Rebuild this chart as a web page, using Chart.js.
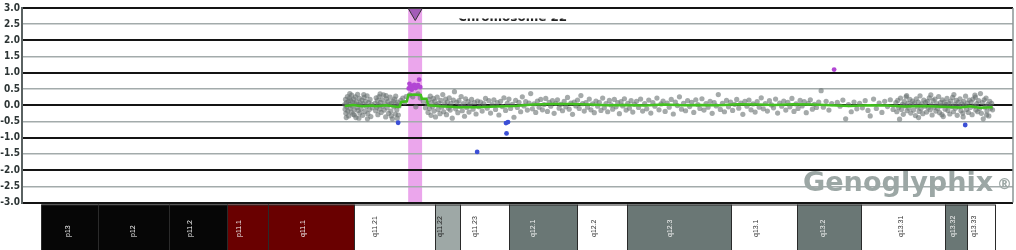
<!DOCTYPE html>
<html>
<head>
<meta charset="utf-8">
<script src="https://cdn.jsdelivr.net/npm/chart.js@4.4.1/dist/chart.umd.min.js"></script>
<style>
  html, body { margin: 0; padding: 0; background: #fff; }
</style>
</head>
<body>
<canvas id="chart" width="1016" height="250"></canvas>
<script>
// --- Data (x in Mb along chromosome 22, y = log2 ratio) ---
const yTicks = [3.0, 2.5, 2.0, 1.5, 1.0, 0.5, 0.0, -0.5, -1.0, -1.5, -2.0, -2.5, -3.0];

const grayPoints = [
  [16.36,0.02],[16.38,-0.12],[16.40,0.18],[16.42,-0.25],[16.45,0.08],[16.47,-0.05],[16.50,0.27],[16.52,-0.18],
  [16.55,0.12],[16.57,-0.33],[16.60,0.03],[16.62,0.22],[16.65,-0.09],[16.68,0.15],[16.70,-0.21],[16.73,0.31],
  [16.76,-0.02],[16.78,0.09],[16.81,-0.28],[16.84,0.19],[16.87,-0.14],[16.90,0.05],[16.93,0.26],[16.96,-0.38],
  [16.99,0.11],[17.02,-0.07],[17.05,0.34],[17.08,-0.16],[17.11,0.02],[17.14,0.21],[17.17,-0.24],[17.20,0.07],
  [17.24,-0.11],[17.28,0.16],[17.32,-0.31],[17.36,0.04],[17.40,0.24],[17.44,-0.19],[17.48,0.12],[17.52,-0.04],
  [17.56,0.29],[17.60,-0.26],[17.64,0.08],[17.68,-0.13],[17.72,0.18],[17.76,-0.35],[17.80,0.03],[17.84,-0.08],
  [16.44,-0.38],[16.63,0.36],[16.88,-0.30],[17.12,-0.40],[17.38,0.33],[17.58,-0.42],
  [17.99,0.06],[18.02,-0.17],[18.05,0.23],[18.08,-0.06],[18.11,0.14],[18.14,-0.29],[18.17,0.01],[18.20,0.27],
  [18.24,-0.12],[18.28,0.09],[18.32,-0.22],[18.36,0.17],[18.40,-0.03],[18.44,0.32],[18.48,-0.15],[18.52,0.05],
  [18.56,-0.36],[18.60,0.20],[18.64,-0.08],[18.68,0.11],[18.72,-0.25],[18.76,0.02],[18.80,0.25],[18.84,-0.18],
  [18.88,0.07],[18.92,-0.42],[18.96,0.13],[19.00,-0.05],[19.04,0.19],[19.08,-0.27],[19.12,0.04],[19.16,-0.14],
  [19.20,0.10],[19.24,-0.30],[19.28,-0.02],
  [18.26,0.35],[18.58,0.30],[18.86,-0.33],[19.10,0.28],[19.18,-0.40],
  [19.38,0.15],[19.48,0.22],[19.58,0.08],[19.66,0.27],
  [19.85,0.32],[20.02,0.26],[20.18,-0.05],[20.30,0.35],[20.42,0.22],
  [20.58,0.12],[20.70,-0.08],
  [20.80,0.05],[20.84,-0.22],[20.88,0.18],[20.92,-0.10],[20.96,0.28],[21.00,-0.31],[21.04,0.08],[21.08,-0.04],
  [21.12,0.21],[21.16,-0.18],[21.20,0.12],[21.24,-0.36],[21.28,0.02],[21.33,0.25],[21.38,-0.13],[21.43,0.07],
  [21.48,-0.26],[21.53,0.15],[21.58,-0.06],[21.63,0.33],[21.68,-0.20],[21.73,0.04],[21.78,0.19],[21.83,-0.29],
  [21.88,0.10],[21.93,-0.09],[21.98,0.23],[22.03,-0.15],[22.08,0.06],[22.14,-0.40],[22.20,0.16],[22.26,0.42],
  [22.32,-0.11],[22.38,0.09],[22.44,-0.23],[22.50,0.14],[22.56,-0.03],[22.62,0.27],[22.68,-0.17],[22.74,0.05],
  [22.80,-0.34],[22.86,0.20],[22.92,-0.07],[22.98,0.11],[23.04,-0.21],[23.10,0.03],[23.18,0.18],[23.26,-0.12],
  [23.34,0.08],[23.42,-0.27],[23.50,0.13],[23.58,-0.05],
  [23.66,0.10],[23.75,-0.18],[23.84,0.05],[23.93,0.21],[24.02,-0.09],[24.11,0.14],[24.20,-0.24],[24.29,0.02],
  [24.38,0.17],[24.47,-0.13],[24.56,0.08],[24.65,-0.30],[24.74,0.12],[24.83,-0.04],[24.92,0.23],[25.01,-0.16],
  [25.10,0.06],[25.19,0.19],[25.28,-0.10],[25.37,0.03],[25.46,-0.37],[25.55,0.15],[25.64,-0.07],[25.73,0.09],
  [25.82,-0.20],[25.91,0.26],[26.00,-0.02],[26.09,0.11],[26.18,-0.15],[26.27,0.07],[26.36,0.36],[26.45,-0.11],
  [26.54,0.04],[26.63,-0.22],[26.72,0.13],[26.81,-0.06],[26.90,0.18],[26.99,-0.14],[27.08,0.02],[27.17,0.21],
  [27.26,-0.19],[27.35,0.09],[27.44,-0.03],[27.53,0.14],[27.62,-0.25],[27.71,0.06],[27.80,0.17],[27.89,-0.09],
  [27.98,0.03],[28.07,-0.17],[28.16,0.12],[28.25,-0.05],[28.34,0.24],[28.43,-0.12],[28.52,0.07],[28.61,-0.28],
  [28.70,0.10],[28.79,-0.02],[28.88,0.16],[28.97,-0.10],[29.06,0.30],[29.15,0.05],[29.24,-0.18],[29.33,0.08],
  [29.42,-0.06],[29.51,0.19],[29.60,-0.14],[29.69,0.04],[29.78,-0.23],[29.87,0.13],[29.96,-0.03],[30.05,0.09],
  [30.14,-0.16],[30.23,0.22],[30.32,-0.08],[30.41,0.05],[30.50,-0.20],[30.59,0.15],[30.68,0.01],[30.77,-0.12],
  [30.86,0.18],[30.95,-0.05],[31.04,0.08],[31.13,-0.26],[31.22,0.11],[31.31,-0.02],[31.40,0.20],[31.49,-0.15],
  [31.58,0.06],[31.67,-0.09],[31.76,0.14],[31.85,-0.21],[31.94,0.03],
  [32.05,0.12],[32.16,-0.07],[32.27,0.19],[32.38,-0.18],[32.49,0.05],[32.60,-0.11],[32.71,0.16],[32.82,-0.24],
  [32.93,0.08],[33.04,-0.03],[33.15,0.22],[33.26,-0.14],[33.37,0.04],[33.48,0.13],[33.59,-0.19],[33.70,0.07],
  [33.81,-0.06],[33.92,0.18],[34.03,-0.27],[34.14,0.10],[34.25,-0.01],[34.36,0.26],[34.47,-0.12],[34.58,0.06],
  [34.69,-0.17],[34.80,0.14],[34.91,-0.04],[35.02,0.09],[35.13,-0.22],[35.24,0.17],[35.35,0.02],[35.46,-0.10],
  [35.57,0.20],[35.68,-0.15],[35.79,0.05],[35.90,-0.06],[36.01,0.12],[36.12,-0.25],[36.23,0.08],[36.34,-0.02],
  [36.45,0.33],[36.56,-0.13],[36.67,0.06],[36.78,-0.20],[36.89,0.15],[37.00,-0.05],[37.11,0.10],[37.22,-0.16],
  [37.33,0.03],[37.44,0.18],[37.55,-0.09],[37.66,0.07],[37.77,-0.28],[37.88,0.12],[37.99,-0.03],[38.10,0.16],
  [38.21,-0.14],[38.32,0.04],[38.43,-0.21],[38.54,0.11],[38.65,-0.06],[38.76,0.23],[38.87,-0.11],[38.98,0.05],
  [39.09,-0.18],[39.20,0.14],[39.31,0.01],[39.42,-0.08],[39.53,0.19],[39.64,-0.24],[39.75,0.07],[39.86,-0.03],
  [39.97,0.13],[40.08,-0.15],[40.19,0.09],[40.30,-0.05],[40.41,0.21],[40.52,-0.19],[40.63,0.04],[40.74,-0.10],
  [40.85,0.15],[40.96,-0.02],[41.07,0.11],[41.18,-0.23],[41.29,0.06],[41.40,0.17],[41.51,-0.12],[41.62,0.03],
  [41.73,-0.07],[41.85,0.10],[41.98,0.45],
  [42.10,-0.06],[42.25,0.12],[42.40,-0.15],[42.55,0.05],[42.85,0.09],[43.00,-0.03],[43.15,0.16],[43.30,-0.42],
  [43.45,0.02],[43.60,-0.20],[43.75,0.10],[43.90,-0.11],[44.05,0.06],[44.20,-0.08],[44.35,0.14],[44.50,-0.16],
  [44.62,-0.33],[44.80,0.19],[44.95,-0.10],[45.10,0.07],[45.25,-0.22],[45.40,0.12],[45.55,-0.04],[45.70,0.17],
  [45.85,-0.13],
  [46.00,0.08],[46.05,-0.20],[46.10,0.15],[46.15,-0.07],[46.20,-0.43],[46.25,0.22],[46.30,-0.13],[46.35,0.03],
  [46.40,-0.28],[46.45,0.11],[46.50,-0.02],[46.55,0.26],[46.60,-0.17],[46.65,0.06],[46.70,-0.09],[46.75,0.18],
  [46.80,-0.24],[46.85,0.02],[46.90,0.13],[46.95,-0.15],[47.00,0.07],[47.05,-0.32],[47.10,0.20],[47.15,-0.05],
  [47.20,0.10],[47.25,-0.19],[47.30,0.29],[47.35,-0.11],[47.40,0.04],[47.45,-0.26],[47.50,0.16],[47.55,-0.03],
  [47.60,0.09],[47.65,-0.21],[47.70,0.12],[47.75,-0.08],[47.80,0.23],[47.85,-0.14],[47.90,0.01],[47.95,-0.30],
  [48.00,0.14],[48.05,-0.06],[48.10,0.19],[48.15,-0.18],[48.20,0.05],[48.25,-0.10],[48.30,0.27],[48.35,-0.23],
  [48.40,0.08],[48.45,-0.02],[48.50,0.17],[48.55,-0.35],[48.60,0.10],[48.65,-0.12],[48.70,0.03],[48.75,0.21],
  [48.80,-0.16],[48.85,0.06],[48.90,-0.27],[48.95,0.13],[49.00,-0.04],[49.05,0.24],[49.10,-0.20],[49.15,0.02],
  [49.20,-0.09],[49.25,0.15],[49.30,-0.31],[49.35,0.09],[49.40,-0.05],[49.45,0.20],[49.50,-0.17],[49.55,0.04],
  [49.60,-0.24],[49.65,0.12],[49.70,-0.01],[49.75,0.28],[49.80,-0.13],[49.85,0.07],[49.90,-0.22],[49.95,0.16],
  [50.00,-0.07],[50.05,0.10],[50.10,-0.29],[50.15,0.19],[50.20,-0.03],[50.25,0.31],[50.30,-0.15],[50.35,0.05],
  [50.40,-0.20],[50.45,0.14],[50.50,-0.10],[50.55,0.36],[50.60,-0.25],[50.65,0.08],[50.70,-0.42],[50.75,0.17],
  [50.80,-0.06],[50.85,0.22],[50.90,-0.18],[50.95,0.03],[51.00,-0.33],[51.05,0.12],[51.10,-0.09],[51.15,0.06],
  [51.20,-0.14],
  [46.58,0.30],[47.22,-0.38],[47.88,0.32],[48.48,-0.29],[49.12,0.33],[49.62,-0.36],[50.28,0.25],[50.88,-0.30]
];

// segmentation / smoothed trend
const trendLine = [
  [16.36,-0.02],[16.8,0.01],[17.3,-0.03],[17.85,-0.01],[18.0,-0.03],[18.6,0.0],[19.2,-0.05],[19.3,-0.04],
  [19.4,0.10],[19.7,0.12],[19.78,0.32],[20.1,0.33],[20.45,0.32],[20.5,0.2],[20.75,0.2],[20.85,0.0],
  [21.5,-0.03],[22.5,-0.06],[23.5,-0.06],[24.5,-0.04],[25.5,-0.02],[26.5,0.02],[27.5,0.04],[28.5,0.04],
  [29.5,0.02],[30.5,0.0],[31.5,0.01],[32.5,-0.01],[33.5,0.02],[34.5,0.0],[35.5,0.01],[36.5,0.0],
  [37.5,0.03],[38.5,0.02],[39.5,0.01],[40.5,0.03],[41.5,0.02],[42.5,0.0],[43.5,-0.02],[44.5,0.0],
  [45.5,-0.01],[46.5,-0.04],[47.5,-0.02],[48.5,-0.05],[49.5,-0.07],[50.0,-0.03],[50.5,-0.08],[51.2,-0.06]
];

const gainPoints = [
  [19.80,0.52],[19.84,0.66],[19.90,0.56],[19.96,0.48],[20.03,0.60],[20.10,0.63],[20.17,0.53],
  [20.24,0.58],[20.30,0.62],[20.36,0.79],[20.42,0.56],[42.68,1.10]
];
const lossPoints = [
  [19.23,-0.54],[23.48,-1.44],[25.03,-0.55],[25.14,-0.52],[25.06,-0.87],[49.73,-0.61]
];

const regionOfInterest = [19.77, 20.52];
const markerPos = [20.15, 2.86];

const bandNames = ['p13','p12','p11.2','p11.1','q11.1','q11.21','q11.22','q11.23','q12.1','q12.2','q12.3','q13.1','q13.2','q13.31','q13.32','q13.33'];
const bandStart = [0, 3.1, 6.9, 10.03, 12.23, 16.86, 21.22, 22.56, 25.20, 28.85, 31.54, 37.14, 40.69, 44.13, 48.65, 49.84];
const bandEnd   = [3.1, 6.9, 10.03, 12.23, 16.86, 21.22, 22.56, 25.20, 28.85, 31.54, 37.14, 40.69, 44.13, 48.65, 49.84, 51.34];
const bandStain = ['stalk','stalk','stalk','acen','acen','neg','pos25','neg','pos75','neg','pos75','neg','pos75','neg','pos75','neg'];
const bandLabelPos = [1.47, 4.97, 8.04, 10.67, 14.11, 17.99, 21.48, 23.37, 26.49, 29.77, 33.86, 38.48, 42.09, 46.28, 49.08, 50.21];

const stainFill = { stalk: '#060606', acen: '#690000', neg: '#ffffff', pos25: '#9ea8a6', pos75: '#6a7775' };
const stainText = { stalk: '#f2f2f2', acen: '#f2f2f2', neg: '#333', pos25: '#222', pos75: '#f2f2f2' };

const toXY = arr => arr.map(p => ({ x: p[0], y: p[1] }));

// --- Plugins ---
const backdrop = {
  id: 'backdrop',
  beforeDraw(chart) {
    const { ctx, chartArea, scales } = chart;
    const x0 = scales.x.getPixelForValue(regionOfInterest[0]);
    const x1 = scales.x.getPixelForValue(regionOfInterest[1]);
    ctx.save();
    ctx.fillStyle = '#eba6ec';
    ctx.fillRect(x0, chartArea.top, x1 - x0, chartArea.bottom - chartArea.top);
    // half-hidden title
    ctx.beginPath();
    ctx.rect(chartArea.left, 18.5, chartArea.right - chartArea.left, 2.5);
    ctx.clip();
    ctx.fillStyle = '#222';
    ctx.font = 'bold 12px "DejaVu Sans"';
    ctx.textBaseline = 'alphabetic';
    ctx.fillText('Chromosome 22', scales.x.getPixelForValue(22.45), 21);
    ctx.restore();
  }
};

const overlay = {
  id: 'overlay',
  afterDraw(chart) {
    const { ctx, chartArea, scales } = chart;
    const xs = scales.x;
    ctx.save();
    // right border
    ctx.strokeStyle = '#8b9595';
    ctx.lineWidth = 1.5;
    ctx.beginPath();
    ctx.moveTo(chartArea.right, chartArea.top);
    ctx.lineTo(chartArea.right, chartArea.bottom);
    ctx.stroke();

    // ideogram
    const top = chartArea.bottom + 2;
    const bottom = chart.height + 2;
    bandNames.forEach((name, i) => {
      const a = Math.round(xs.getPixelForValue(bandStart[i])) + 0.5;
      const b = Math.round(xs.getPixelForValue(bandEnd[i])) + 0.5;
      ctx.fillStyle = stainFill[bandStain[i]];
      ctx.fillRect(a, top, b - a, bottom - top);
      ctx.strokeStyle = '#2a2a2a';
      ctx.lineWidth = 1;
      ctx.strokeRect(a, top + 0.5, b - a, bottom - top);
    });
    ctx.font = '7px "Liberation Sans"';
    ctx.textAlign = 'left';
    ctx.textBaseline = 'middle';
    bandNames.forEach((name, i) => {
      ctx.save();
      ctx.translate(xs.getPixelForValue(bandLabelPos[i]), 237);
      ctx.rotate(-Math.PI / 2);
      ctx.fillStyle = stainText[bandStain[i]];
      ctx.fillText(name, 0, 0);
      ctx.restore();
    });

    // watermark
    ctx.fillStyle = '#9ca7a5';
    ctx.textAlign = 'left';
    ctx.textBaseline = 'alphabetic';
    ctx.font = 'bold 25px "DejaVu Sans"';
    const w = ctx.measureText('Genoglyphix').width;
    const size = 25 * 190 / w;
    ctx.font = 'bold ' + size.toFixed(1) + 'px "DejaVu Sans"';
    ctx.fillText('Genoglyphix', 803, 191);
    ctx.font = 'bold 15px "DejaVu Sans"';
    ctx.fillText('\u00AE', 997, 189);
    ctx.restore();
  }
};

// --- Chart ---
new Chart(document.getElementById('chart'), {
  type: 'scatter',
  data: {
    datasets: [
      {
        label: 'marker',
        data: [{ x: markerPos[0], y: markerPos[1] }],
        pointStyle: 'triangle',
        rotation: 180,
        pointRadius: 8,
        backgroundColor: '#a35cb8',
        borderColor: '#333',
        borderWidth: 1
      },
      {
        label: 'loss',
        data: toXY(lossPoints),
        pointRadius: 2.4,
        backgroundColor: '#3b4fd6',
        borderWidth: 0
      },
      {
        label: 'gain',
        data: toXY(gainPoints),
        pointRadius: 2.4,
        backgroundColor: '#b246d4',
        borderWidth: 0
      },
      {
        label: 'trend',
        type: 'line',
        data: toXY(trendLine),
        borderColor: '#42c01e',
        borderWidth: 2.5,
        pointRadius: 0,
        tension: 0,
        fill: false
      },
      {
        label: 'probes',
        data: toXY(grayPoints),
        pointRadius: 2.6,
        backgroundColor: 'rgba(105,113,113,0.6)',
        borderWidth: 0
      }
    ]
  },
  options: {
    responsive: false,
    animation: false,
    layout: { autoPadding: false, padding: { top: 5, right: 3, bottom: 47.5, left: 0 } },
    plugins: { legend: { display: false }, tooltip: { enabled: false } },
    scales: {
      x: {
        type: 'linear',
        min: -1.0,
        max: 52.3,
        display: false
      },
      y: {
        min: -3,
        max: 3,
        z: 1,
        afterFit(scale) { scale.width = 22; },
        afterBuildTicks(scale) { scale.ticks = yTicks.map(v => ({ value: v })); },
        ticks: {
          autoSkip: false,
          padding: 2,
          color: '#2d3535',
          font: { family: '"DejaVu Sans Condensed"', size: 10, weight: 'bold' },
          callback: v => v.toFixed(1)
        },
        grid: {
          drawTicks: false,
          color: ctx => Number.isInteger(ctx.tick.value) ? '#141414' : '#a3abab',
          lineWidth: ctx => Number.isInteger(ctx.tick.value) ? 2 : 1.5
        },
        border: { color: '#5a6262', width: 2 }
      }
    }
  },
  plugins: [backdrop, overlay]
});
</script>
</body>
</html>
